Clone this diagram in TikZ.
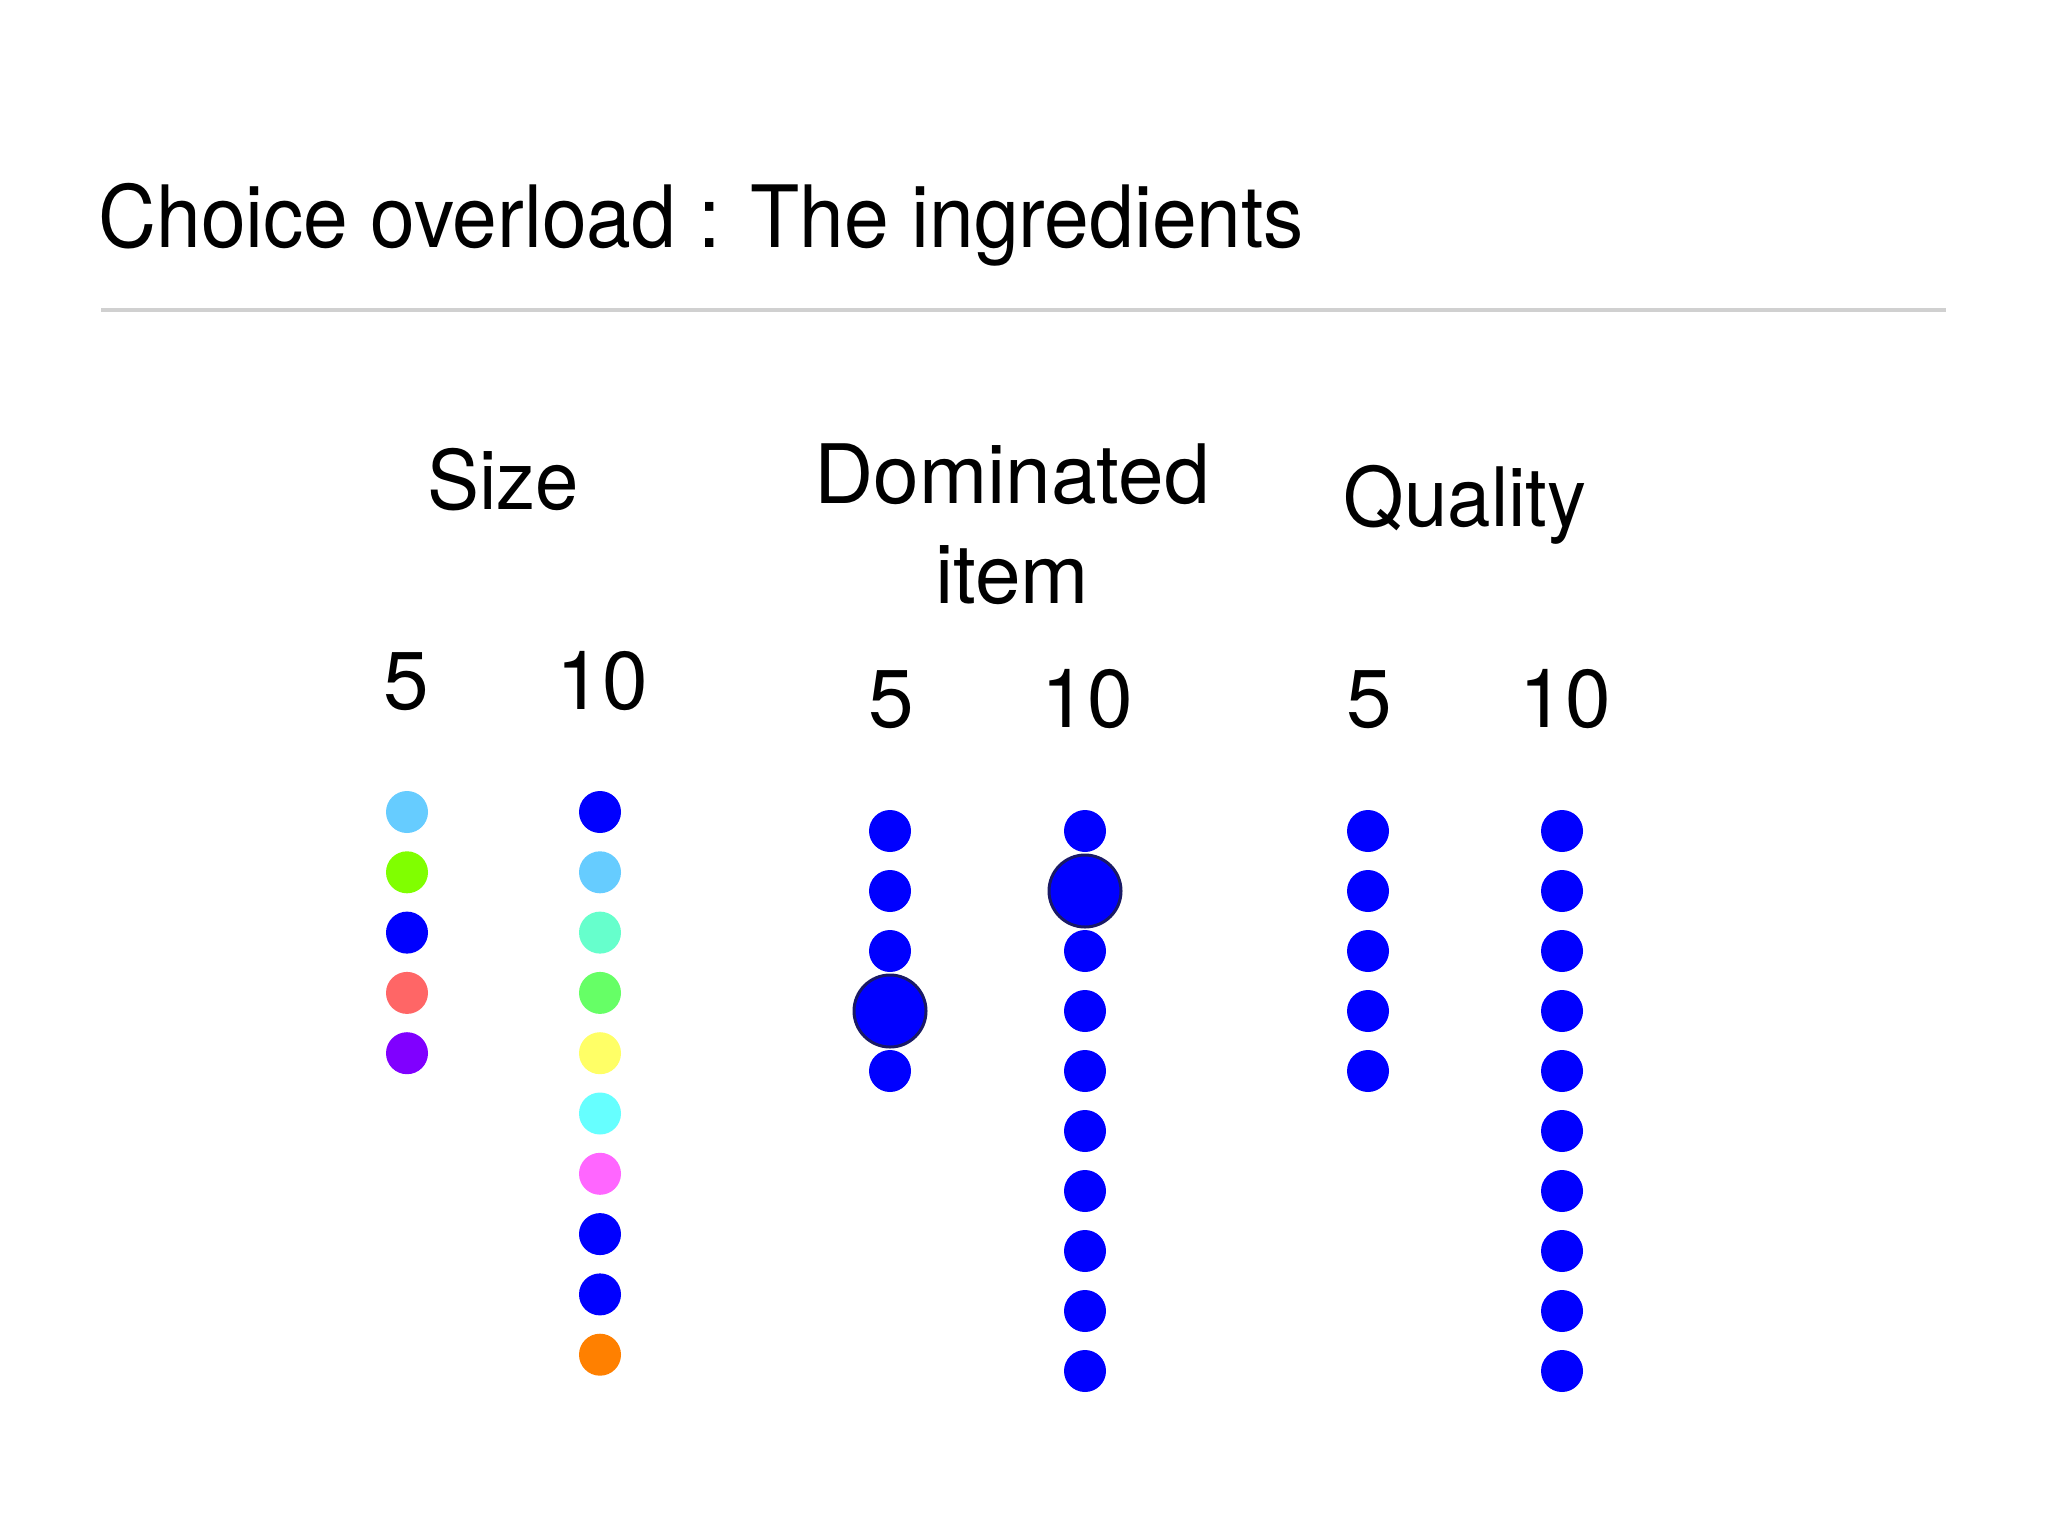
\documentclass[tikz,border=0pt]{standalone}
\usepackage{fontspec}
\setmainfont{TeX Gyre Heros}
\definecolor{dotblue}{HTML}{0000FF}
\definecolor{ltblue}{HTML}{66CCFF}
\definecolor{chart}{HTML}{80FF00}
\definecolor{salmon}{HTML}{FF6666}
\definecolor{violet}{HTML}{8000FF}
\definecolor{aqua}{HTML}{66FFCC}
\definecolor{lgreen}{HTML}{66FF66}
\definecolor{lyellow}{HTML}{FFFF66}
\definecolor{lcyan}{HTML}{66FFFF}
\definecolor{lpink}{HTML}{FF66FF}
\definecolor{orng}{HTML}{FF8000}
\definecolor{rulegray}{HTML}{D0D0D0}
\definecolor{navy}{HTML}{1A1A66}
\begin{document}
\begin{tikzpicture}[x=0.5pt,y=-0.5pt,
  dot/.style={circle,inner sep=0pt,minimum size=21pt,fill=#1,draw=none},
  bigdot/.style={circle,inner sep=0pt,minimum size=36pt,fill=dotblue,draw=navy,line width=1.5pt},
  lbl/.style={font=\fontsize{41}{50}\selectfont,anchor=base,inner sep=0pt},
  titlestyle/.style={font=\fontsize{43}{52}\selectfont,anchor=base west,inner sep=0pt}]
\useasboundingbox[fill=white] (0,0) rectangle (2048,1536);
\node[titlestyle] (title) at (98,247) {\scalebox{0.935}[1]{Choice overload : The ingredients}};
\coordinate (rl) at (101,310);
\coordinate (rr) at (1946,310);
\draw[rulegray,line width=2pt] (rl) -- (rr);
% group labels
\node[lbl] (size) at (503,509) {\scalebox{0.95}[1]{Size}};
\node[lbl] (dom1) at (1012,503) {Dominated};
\node[lbl] (dom2) at (1012,603) {item};
\node[lbl] (qual) at (1465,526) {\scalebox{0.95}[1]{Quality}};
% numbers
\node[lbl] (s5) at (406,709) {5};
\node[lbl] (s10) at (602,709) {10};
\node[lbl] (d5) at (891,727) {5};
\node[lbl] (d10) at (1087,727) {10};
\node[lbl] (q5) at (1369,727) {5};
\node[lbl] (q10) at (1565,727) {10};
% Size 5
\foreach \c [count=\i from 0] in {ltblue,chart,dotblue,salmon,violet}
  \node[dot=\c] (sa\i) at (407,812+60.3*\i) {};
% Size 10
\foreach \c [count=\i from 0] in {dotblue,ltblue,aqua,lgreen,lyellow,lcyan,lpink,dotblue,dotblue,orng}
  \node[dot=\c] (sb\i) at (600,812+60.3*\i) {};
% Dominated 5
\foreach \i in {0,1,2,4}
  \node[dot=dotblue] (da\i) at (890,831+60*\i) {};
\node[bigdot] (da3) at (890,1011) {};
% Dominated 10
\foreach \i in {0,2,3,4,5,6,7,8,9}
  \node[dot=dotblue] (db\i) at (1085,831+60*\i) {};
\node[bigdot] (db1) at (1085,891) {};
% Quality 5
\foreach \i in {0,...,4}
  \node[dot=dotblue] (qa\i) at (1368,831+60*\i) {};
% Quality 10
\foreach \i in {0,...,9}
  \node[dot=dotblue] (qb\i) at (1562,831+60*\i) {};
\end{tikzpicture}
\end{document}
